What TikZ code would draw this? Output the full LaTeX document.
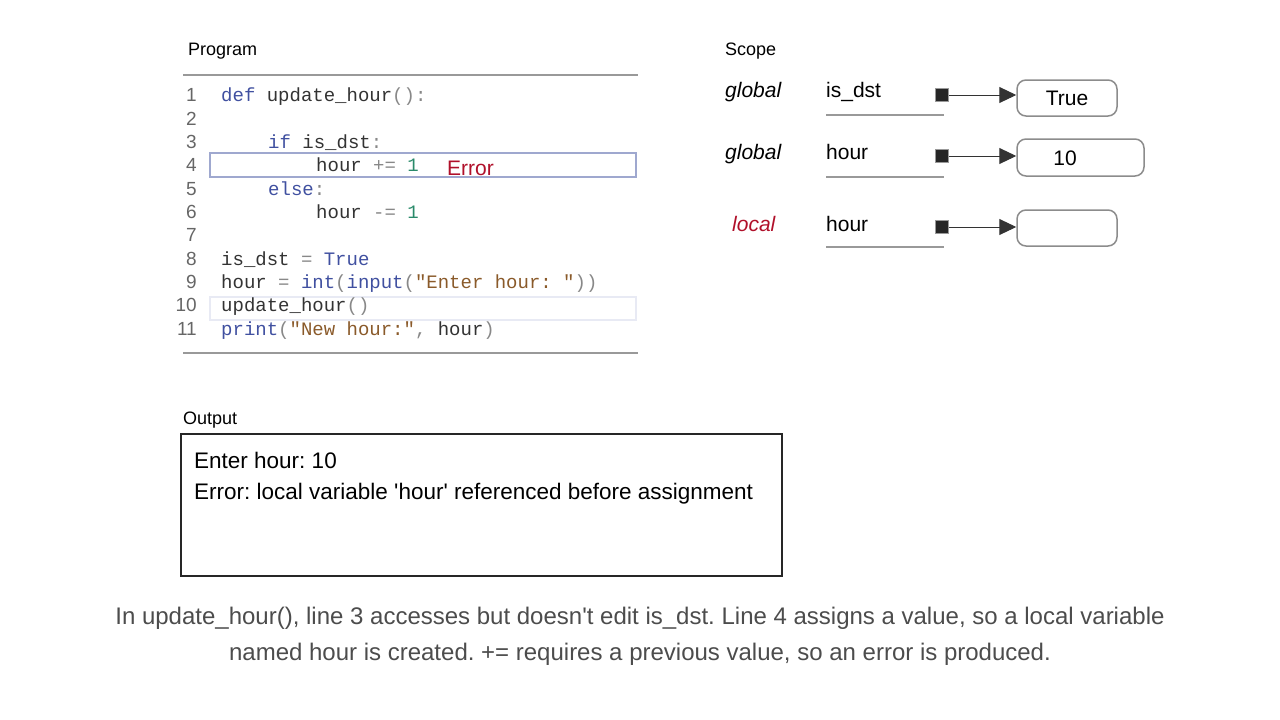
\documentclass[tikz,border=0pt]{standalone}
\usepackage{fontspec}
\setmainfont{Liberation Sans}
\newfontfamily\codefont{Liberation Mono}
\usetikzlibrary{arrows.meta}
\definecolor{kw}{HTML}{4050A0}
\definecolor{str}{HTML}{8A5A2A}
\definecolor{num}{HTML}{2A8A6A}
\definecolor{op}{HTML}{888888}
\definecolor{idc}{HTML}{333333}
\definecolor{errred}{HTML}{B0102A}
\frenchspacing
\begin{document}
\begin{tikzpicture}[x=1pt,y=-1pt,
  lbl/.style={anchor=base west,font=\fontsize{18}{20}\selectfont,text=black,inner sep=0},
  ln/.style={anchor=base east,font=\fontsize{19}{20}\selectfont,text=black!60,inner sep=0},
  code/.style={anchor=base west,font=\codefont\fontsize{19}{20}\selectfont,text=idc,inner sep=0},
  big/.style={anchor=base west,font=\fontsize{21}{24}\selectfont,inner sep=0},
  valbox/.style={draw=black!45,line width=1.5pt,rounded corners=9pt},
  rule/.style={draw=black!40,line width=1.2pt},
  ptr/.style={-{Triangle[length=17pt,width=16pt]},line width=1pt,black!80}]
\useasboundingbox (0,0) rectangle (1280,720);
\node[lbl] (prog) at (188,55) {Program};
\draw[rule] (183,75) -- (638,75);
\draw[rule] (183,353) -- (638,353);
\draw[draw=kw!50,line width=1.5pt] (210,153) rectangle (636,177);
\draw[draw=kw!12,line width=1.5pt] (210,297) rectangle (636,320);
\foreach \i/\y in {1/101,2/125,3/148,4/171,5/195,6/218,7/241,8/265,9/288,10/311,11/335}
  \node[ln] (n\i) at (197,\y) {\i};
\node[code] (c1) at (221,101) {\textcolor{kw}{def} update\_hour\textcolor{op}{():}};
\node[code] (c3) at (268,148) {\textcolor{kw}{if} is\_dst\textcolor{op}{:}};
\node[code] (c4) at (316,171) {hour \textcolor{op}{+=} \textcolor{num}{1}};
\node[big,text=errred] (err) at (447,175) {Error};
\node[code] (c5) at (268,195) {\textcolor{kw}{else}\textcolor{op}{:}};
\node[code] (c6) at (316,218) {hour \textcolor{op}{-=} \textcolor{num}{1}};
\node[code] (c8) at (221,265) {is\_dst \textcolor{op}{=} \textcolor{kw}{True}};
\node[code] (c9) at (221,288) {hour \textcolor{op}{=} \textcolor{kw}{int}\textcolor{op}{(}\textcolor{kw}{input}\textcolor{op}{(}\textcolor{str}{"Enter hour: "}\textcolor{op}{))}};
\node[code] (c10) at (221,311) {update\_hour\textcolor{op}{()}};
\node[code] (c11) at (221,335) {\textcolor{kw}{print}\textcolor{op}{(}\textcolor{str}{"New hour:"}\textcolor{op}{,} hour\textcolor{op}{)}};
% scope
\node[lbl] (scope) at (725,55) {Scope};
\foreach \r/\y/\sc/\col/\nm/\xs in {1/97/global/black/is\_dst/725,2/159/global/black/hour/725,3/231/local/errred/hour/732}{
  \node[big,font=\itshape\fontsize{21}{24}\selectfont,text=\col] (s\r) at (\xs,\y) {\sc};
  \node[big] (v\r) at (826,\y) {\nm};
}
\draw[rule] (826,115) -- (944,115);
\draw[rule] (826,177) -- (944,177);
\draw[rule] (826,247) -- (944,247);
\node[valbox,minimum width=100pt,minimum height=36pt,font=\fontsize{21}{24}\selectfont] (b1) at (1067,98) {True};
\node[valbox,minimum width=127pt,minimum height=37pt,font=\fontsize{21}{24}\selectfont] (b2) at (1080.5,157.5) {};
\node[font=\fontsize{21}{24}\selectfont] (b2t) at (1065,158) {10};
\node[valbox,minimum width=100pt,minimum height=36pt] (b3) at (1067,228) {};
\foreach \r/\y in {1/95,2/156,3/227}{
  \node[draw=black!40,fill=black!85,line width=1.5pt,minimum size=13pt,inner sep=0] (q\r) at (942,\y) {};
  \draw[ptr] (q\r.east) -- (b\r.west |- q\r);
}
% output
\node[lbl] (outl) at (183,424) {Output};
\node[draw=black!85,line width=2pt,minimum width=601pt,minimum height=142pt,anchor=north west] (obox) at (180,433) {};
\node[big,font=\fontsize{22.5}{24}\selectfont] (o1) at (194,468) {Enter hour: 10};
\node[big,font=\fontsize{22.5}{24}\selectfont] (o2) at (194,499) {Error: local variable \textquotesingle hour\textquotesingle{} referenced before assignment};
\node[font=\fontsize{24}{36}\selectfont,text=black!70,align=center] (cap) at (640,636) {In update\_hour(), line 3 accesses but doesn\textquotesingle t edit is\_dst. Line 4 assigns a value, so a local variable\\named hour is created. += requires a previous value, so an error is produced.};
\end{tikzpicture}
\end{document}
